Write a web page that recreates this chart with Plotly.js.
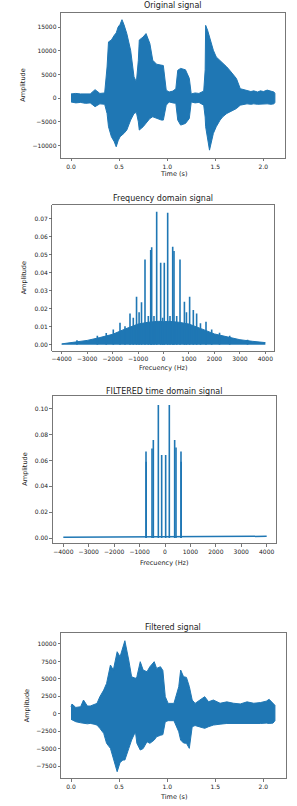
<!DOCTYPE html>
<html>
<head>
<meta charset="utf-8">
<script src="https://cdn.plot.ly/plotly-3.0.1.min.js"></script>
<style>html,body{margin:0;padding:0;background:#fff;}#chart{width:297px;height:806px;}</style>
</head>
<body>
<div id="chart"></div>
<script>
// ---------- DATA ----------
// Plot 1: Original signal, envelope (upper / lower) vs time (s)
const origTime  = [0.00,0.05,0.10,0.15,0.20,0.25,0.30,0.35,0.375,0.39,0.42,0.45,0.47,0.49,0.51,0.53,0.55,0.58,0.62,0.655,0.68,0.70,0.71,0.75,0.78,0.82,0.85,0.89,0.94,0.96,0.99,1.02,1.06,1.09,1.11,1.14,1.19,1.23,1.25,1.29,1.33,1.38,1.395,1.40,1.42,1.44,1.48,1.51,1.55,1.58,1.62,1.65,1.69,1.72,1.76,1.80,1.83,1.87,1.90,1.94,1.97,2.00,2.04,2.08,2.11,2.12];
const origUpper = [900,1000,900,950,900,1800,1000,1100,6600,11900,12300,13300,13800,15050,15600,16600,15600,13660,10130,4500,3440,8000,12300,12950,13660,11550,8020,7180,7000,6900,1690,1300,1500,2000,5900,6300,6000,4200,900,1100,1000,1500,6000,15400,14360,12950,10130,8720,8020,7300,6600,5900,4860,4150,2000,1800,1700,1400,1550,1300,1550,1400,1700,1400,1300,1000];
const origLower = [-800,-1000,-900,-1100,-1000,-1800,-1200,-1300,-3240,-6050,-8160,-9220,-10280,-9000,-8160,-7800,-7460,-6750,-4640,-3240,-3000,-5000,-6750,-6050,-5350,-4290,-3940,-4200,-4640,-4640,-1480,-800,-1000,-1100,-4640,-5700,-5350,-4290,-800,-1000,-900,-1480,-4000,-6050,-8870,-11000,-7460,-6050,-4640,-3900,-3240,-3000,-2530,-2200,-1480,-1300,-1200,-1300,-1200,-1300,-1200,-1250,-1200,-1300,-1200,-900];

// Plot 2: Frequency domain signal
const freqBaseHz  = [-4000,-3500,-3000,-2500,-2000,-1500,-1000,-600,-200,0,200,600,1000,1500,2000,2500,3000,3500,4000];
const freqBaseAmp = [0.0005,0.0014,0.0024,0.0040,0.0058,0.0088,0.0115,0.0125,0.0130,0.0128,0.0130,0.0125,0.0115,0.0088,0.0060,0.0044,0.0028,0.0019,0.0012];
const freqSpikeHz  = [-3400,-2600,-2250,-1973,-1710,-1514,-1317,-1188,-1060,-960,-865,-728,-598,-504,-465,-375,-269,-112,-33,30,163,254,360,411,517,647,820,900,1025,1170,1300,1450,1668,1891,2200,2600,3300];
const freqSpikeAmp = [0.0025,0.0050,0.0065,0.0085,0.0122,0.0103,0.0174,0.0150,0.0267,0.0180,0.0236,0.0474,0.0160,0.0526,0.0541,0.0160,0.0739,0.0456,0.0150,0.0456,0.0733,0.0160,0.0544,0.0520,0.0160,0.0474,0.0239,0.0180,0.0266,0.0193,0.0174,0.0120,0.0128,0.0085,0.0067,0.0050,0.0028];

// Plot 3: FILTERED time domain signal (spectrum after filtering)
const filtBaseHz  = [-4000,4000];
const filtBaseAmp = [0.0006,0.0013];
const filtSpikeHz  = [-747,-740,-511,-459,-262,-131,26,170,380,433,629,636];
const filtSpikeAmp = [0.0668,0.0590,0.0693,0.0758,0.1028,0.0642,0.0642,0.1028,0.0758,0.0700,0.0668,0.0590];

// Plot 4: Filtered signal envelope
const filtTime  = [0.00,0.01,0.05,0.10,0.13,0.17,0.20,0.24,0.27,0.30,0.34,0.37,0.41,0.44,0.48,0.51,0.54,0.56,0.60,0.63,0.67,0.685,0.72,0.75,0.79,0.82,0.865,0.89,0.93,0.955,0.98,1.01,1.07,1.12,1.14,1.17,1.20,1.23,1.26,1.29,1.34,1.39,1.43,1.48,1.55,1.62,1.69,1.76,1.83,1.90,1.97,2.03,2.06,2.10,2.12];
const filtUpper = [1000,1390,900,1000,1960,1100,1100,1300,1480,2440,3390,4350,6980,6260,8890,8170,9610,10470,7700,5310,5070,5300,7460,6260,6020,6740,7460,6500,6740,6200,2440,1480,1480,3870,6260,5310,5210,3900,1960,1480,1960,2440,1720,1960,1500,1700,1500,1400,1700,1500,1600,1800,2060,1400,1200];
const filtLower = [-800,-910,-1150,-1300,-1400,-1450,-1390,-1500,-1630,-2100,-2820,-4250,-4970,-6170,-8320,-7000,-6640,-6640,-5000,-3780,-2580,-4250,-5210,-5000,-4020,-4250,-3780,-3300,-3100,-3000,-1150,-1000,-1000,-2580,-3780,-4200,-4250,-4970,-1860,-1700,-1900,-2100,-1860,-1630,-1500,-1400,-1390,-1390,-1400,-1390,-1400,-1350,-1400,-1350,-1000];

// Tick values
const timeTicks = [0,0.5,1.0,1.5,2.0];
const origYTicks = [-10000,-5000,0,5000,10000,15000];
const freqTicks = [-4000,-3000,-2000,-1000,0,1000,2000,3000,4000];
const freqYTicks = [0,0.01,0.02,0.03,0.04,0.05,0.06,0.07];
const filtFreqYTicks = [0,0.02,0.04,0.06,0.08,0.10];
const filtYTicks = [-7500,-5000,-2500,0,2500,5000,7500,10000];

// ---------- LAYOUT ----------
const W = 297, H = 806;
const BLUE = '#1f77b4';
const FONT = 'DejaVu Sans, sans-serif';
const boxes = [
  {l:61,   r:285,   t:12.7, b:158,   title:'Original signal',            tY:6,     xl:'Time (s)',        xlY:174.5, ylX:23.3},
  {l:52.3, r:274,   t:205,  b:350.7, title:'Frequency domain signal',    tY:198.5, xl:'Frecuency (Hz)',  xlY:367.5, ylX:23.5},
  {l:52.7, r:276,   t:396,  b:543.3, title:'FILTERED time domain signal',tY:392,   xl:'Frecuency (Hz)',  xlY:562.5, ylX:25},
  {l:61,   r:285.7, t:632.7,b:778.3, title:'Filtered signal',            tY:627,   xl:'Time (s)',        xlY:796.5, ylX:26.7}
];
const px = v => v / W, py = v => 1 - v / H;

function spikes(fs, as) {
  const x = [], y = [];
  fs.forEach((f, i) => { x.push(f, f, null); y.push(0, as[i], null); });
  return {x, y};
}

const traces = [];
function envelope(t, up, lo, xa, ya) {
  const x = t.concat(t.slice().reverse());
  const y = up.concat(lo.slice().reverse());
  traces.push({x:x, y:y, xaxis:xa, yaxis:ya, type:'scatter', mode:'lines', line:{color:BLUE, width:1}, fill:'toself', fillcolor:BLUE, hoverinfo:'skip'});
}
envelope(origTime, origUpper, origLower, 'x', 'y');
traces.push({x:freqBaseHz, y:freqBaseAmp, xaxis:'x2', yaxis:'y2', type:'scatter', mode:'lines', line:{color:BLUE, width:1}, fill:'tozeroy', fillcolor:BLUE});
const s2 = spikes(freqSpikeHz, freqSpikeAmp);
traces.push({x:s2.x, y:s2.y, xaxis:'x2', yaxis:'y2', type:'scatter', mode:'lines', line:{color:BLUE, width:1.6}});
traces.push({x:filtBaseHz, y:filtBaseAmp, xaxis:'x3', yaxis:'y3', type:'scatter', mode:'lines', line:{color:BLUE, width:1.5}});
const s3 = spikes(filtSpikeHz, filtSpikeAmp);
traces.push({x:s3.x, y:s3.y, xaxis:'x3', yaxis:'y3', type:'scatter', mode:'lines', line:{color:BLUE, width:1.6}});
envelope(filtTime, filtUpper, filtLower, 'x4', 'y4');

const tickFont = {family:FONT, size:6, color:'#222'};
function axis(dom, range, tickvals, fmt, anchor) {
  return {domain:dom, range:range, tickvals:tickvals, tickformat:fmt, anchor:anchor,
          showgrid:false, zeroline:false, showline:true, mirror:true, linecolor:'#555', linewidth:0.8,
          ticks:'outside', ticklen:2.5, tickwidth:0.8, tickcolor:'#555', tickfont:tickFont, fixedrange:true};
}
const layout = {
  width:W, height:H, margin:{l:0, r:0, t:0, b:0}, showlegend:false,
  paper_bgcolor:'#fff', plot_bgcolor:'#fff',
  xaxis:  axis([px(boxes[0].l), px(boxes[0].r)], [-0.104, 2.225], timeTicks, '.1f', 'y'),
  yaxis:  axis([py(boxes[0].b), py(boxes[0].t)], [-12660, 18080], origYTicks, 'd', 'x'),
  xaxis2: axis([px(boxes[1].l), px(boxes[1].r)], [-4369, 4339], freqTicks, 'd', 'y2'),
  yaxis2: axis([py(boxes[1].b), py(boxes[1].t)], [-0.0033, 0.0776], freqYTicks, '.2f', 'x2'),
  xaxis3: axis([px(boxes[2].l), px(boxes[2].r)], [-4418, 4367], freqTicks, 'd', 'y3'),
  yaxis3: axis([py(boxes[2].b), py(boxes[2].t)], [-0.0041, 0.1098], filtFreqYTicks, '.2f', 'x3'),
  xaxis4: axis([px(boxes[3].l), px(boxes[3].r)], [-0.104, 2.232], timeTicks, '.1f', 'y4'),
  yaxis4: axis([py(boxes[3].b), py(boxes[3].t)], [-9265, 11620], filtYTicks, 'd', 'x4'),
  annotations: []
};
boxes.forEach(b => {
  const cx = px((b.l + b.r) / 2), cy = py((b.t + b.b) / 2);
  layout.annotations.push({xref:'paper', yref:'paper', x:cx, y:py(b.tY), text:b.title, showarrow:false, xanchor:'center', yanchor:'middle', font:{family:FONT, size:8, color:'#222'}});
  layout.annotations.push({xref:'paper', yref:'paper', x:cx, y:py(b.xlY), text:b.xl, showarrow:false, xanchor:'center', yanchor:'middle', font:{family:FONT, size:6.5, color:'#222'}});
  layout.annotations.push({xref:'paper', yref:'paper', x:px(b.ylX), y:cy, text:'Amplitude', textangle:-90, showarrow:false, xanchor:'center', yanchor:'middle', font:{family:FONT, size:6.5, color:'#222'}});
});
Plotly.newPlot('chart', traces, layout, {staticPlot:true, displayModeBar:false});
</script>
</body>
</html>
